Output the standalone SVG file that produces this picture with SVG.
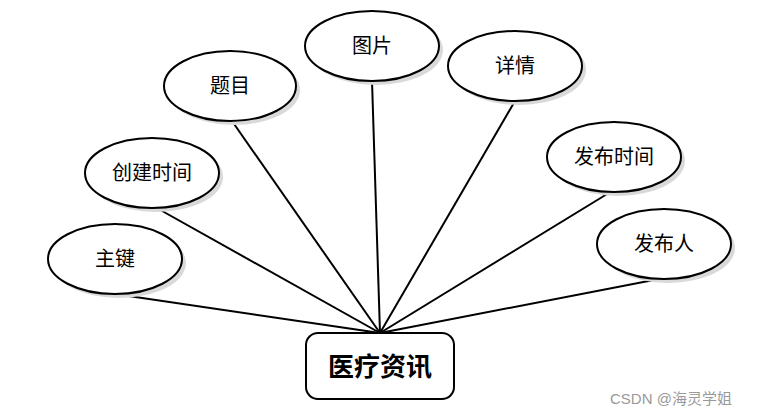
<svg xmlns="http://www.w3.org/2000/svg" width="783" height="416" viewBox="0 0 783 416">
<defs>
<style>
.sh{fill:#d9d9d9;stroke:none}
.e{fill:#fff;stroke:#000;stroke-width:2}
.t{font-family:"Liberation Sans","Noto Sans CJK SC",sans-serif;font-size:20px;text-anchor:middle;fill:#000}
.c line{stroke:#000;stroke-width:2}
</style>
</defs>
<rect width="783" height="416" fill="#fff"/>
<g class="c">
<line x1="115" y1="294" x2="380" y2="333"/>
<line x1="155" y1="207" x2="380" y2="333"/>
<line x1="232" y1="121" x2="380" y2="333"/>
<line x1="372" y1="81" x2="380" y2="333"/>
<line x1="515" y1="101" x2="380" y2="333"/>
<line x1="612" y1="191" x2="380" y2="333"/>
<line x1="664" y1="278" x2="380" y2="333"/>
</g>
<g id="n1"><ellipse class="sh" cx="119" cy="263" rx="67" ry="35"/><ellipse class="e" cx="115" cy="259" rx="67" ry="35"/><text class="t" x="115" y="266">主键</text></g>
<g id="n2"><ellipse class="sh" cx="156" cy="177" rx="67" ry="35"/><ellipse class="e" cx="152" cy="173" rx="67" ry="35"/><text class="t" x="152" y="180">创建时间</text></g>
<g id="n3"><ellipse class="sh" cx="234" cy="90" rx="66" ry="35"/><ellipse class="e" cx="230" cy="86" rx="66" ry="35"/><text class="t" x="230" y="93">题目</text></g>
<g id="n4"><ellipse class="sh" cx="376" cy="50" rx="67" ry="35"/><ellipse class="e" cx="372" cy="46" rx="67" ry="35"/><text class="t" x="372" y="53">图片</text></g>
<g id="n5"><ellipse class="sh" cx="519" cy="70" rx="67" ry="35"/><ellipse class="e" cx="515" cy="66" rx="67" ry="35"/><text class="t" x="515" y="73">详情</text></g>
<g id="n6"><ellipse class="sh" cx="618" cy="161" rx="67" ry="35"/><ellipse class="e" cx="614" cy="157" rx="67" ry="35"/><text class="t" x="614" y="164">发布时间</text></g>
<g id="n7"><ellipse class="sh" cx="668" cy="248" rx="67" ry="35"/><ellipse class="e" cx="664" cy="244" rx="67" ry="35"/><text class="t" x="664" y="251">发布人</text></g>
<g id="center"><rect x="306" y="333" width="148" height="66" rx="12" fill="#fff" stroke="#000" stroke-width="2"/><text class="t" x="380" y="376" style="font-size:26px;font-weight:bold">医疗资讯</text></g>
<text x="610" y="404" style="font-family:'Liberation Sans','Noto Sans CJK SC',sans-serif;font-size:15px;fill:#999">CSDN @海灵学姐</text>
</svg>
